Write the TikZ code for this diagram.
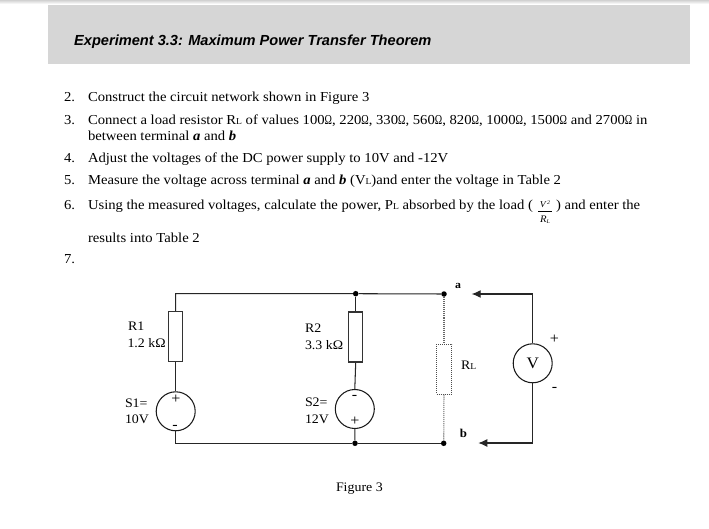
\documentclass[tikz,border=0pt]{standalone}
\usepackage{fontspec}
\usepackage{graphicx}
\setmainfont[FakeStretch=1.07]{Liberation Serif}
\newfontfamily\headf{Liberation Sans}
\usetikzlibrary{arrows.meta}
\newcommand{\lsub}[1]{{\fontsize{9}{9}\selectfont #1}}
\newcommand{\om}{Ω}
\newcommand{\omn}{\scalebox{0.68}[1]{Ω}}
\tikzset{
  x=1pt,y=-1pt,
  wire/.style={line width=1.05pt,draw=black!85},
  txt/.style={anchor=base west,inner sep=0,outer sep=0,font=\fontsize{13.7}{14}\selectfont,text=black},
  lab/.style={anchor=base west,inner sep=0,outer sep=0,font=\fontsize{13}{14}\selectfont,text=black},
  resbox/.style={draw=black!80,line width=1.05pt,minimum width=14.5pt,minimum height=50pt,inner sep=0,fill=white},
  loadbox/.style={draw=black!70,densely dotted,line width=1pt,minimum width=15pt,minimum height=50pt,inner sep=0},
  srcnode/.style={circle,draw=black!90,line width=1.05pt,minimum size=39pt,inner sep=0,font=\fontsize{16}{16}\selectfont},
  junction/.style={circle,fill=black,minimum size=5.5pt,inner sep=0},
  arr/.style={wire,-{Latex[length=9pt,width=8pt]}},
  sign/.style={anchor=center,inner sep=0,font=\fontsize{15}{15}\selectfont},
}
\begin{document}
\begin{tikzpicture}
\useasboundingbox (0,0) rectangle (709,529);
\fill[white] (0,0) rectangle (709,529);
\shade[top color=black!18,bottom color=white] (0,0) rectangle (709,4);
\fill[black!16] (48,5) rectangle (690,64);
\node[anchor=base west,inner sep=0,font=\headf\bfseries\itshape\fontsize{14.6}{16}\selectfont] (title) at (74,46) {Experiment 3.3: Maximum Power Transfer Theorem};
% numbered text
\node[txt] (n2) at (64,101.5) {2.};
\node[txt] (t2) at (88,101.5) {Construct the circuit network shown in Figure 3};
\node[txt] (n3) at (64,124.5) {3.};
\node[txt] (t3) at (88,124.5) {Connect a load resistor R\lsub{L} of values 100\omn, 220\omn, 330\omn, 560\omn, 820\omn, 1000\omn, 1500\omn\ and 2700\omn\ in};
\node[txt] (t3b) at (88,140.5) {between terminal \textbf{\textit{a}} and \textbf{\textit{b}}};
\node[txt] (n4) at (64,162.5) {4.};
\node[txt] (t4) at (88,162.5) {Adjust the voltages of the DC power supply to 10V and -12V};
\node[txt] (n5) at (64,184.5) {5.};
\node[txt] (t5) at (88,184.5) {Measure the voltage across terminal \textbf{\textit{a}} and \textbf{\textit{b}} (V\lsub{L})and enter the voltage in Table 2};
\node[txt] (n6) at (64,209.5) {6.};
\node[txt] (t6) at (88,209.5) {Using the measured voltages, calculate the power, P\lsub{L} absorbed by the load (};
\node[anchor=base,inner sep=0,font=\itshape\fontsize{9}{9}\selectfont] (fv) at (545,208) {V\,\raisebox{3pt}{\fontsize{5.5}{5.5}\selectfont 2}};
\node[anchor=base,inner sep=0,font=\itshape\fontsize{10}{10}\selectfont] (fr) at (545,223) {R\raisebox{-1pt}{\fontsize{5.5}{5.5}\selectfont L}};
\coordinate (fa) at (538,211);
\coordinate (fb) at (552,211);
\draw[line width=0.7pt] (fa) -- (fb);
\node[txt] (t6b) at (556,209.5) {) and enter the};
\node[txt] (t6c) at (88,242.5) {results into Table 2};
\node[txt] (n7) at (64,263.5) {7.};
% circuit
\coordinate (tl) at (175.7,293.7);
\coordinate (bl) at (175.7,443.3);
\node[junction] (jt) at (355.7,293.7) {};
\node[junction] (jb) at (355,443.3) {};
\node[junction] (a) at (444,294) {};
\node[junction] (b) at (443.7,443.3) {};
\node[resbox] (r1) at (175.7,336.3) {};
\node[resbox] (r2) at (355.7,337) {};
\node[loadbox] (rl) at (444,369) {};
\node[srcnode] (s1) at (175.7,411.3) {};
\node[srcnode] (s2) at (354.8,409) {};
\node[srcnode] (v) at (532.7,363.3) {V};
\coordinate (vt) at (532.7,294);
\coordinate (vb) at (532.7,443);
\coordinate (at) at (471.7,294);
\coordinate (bt) at (478.3,443);
\draw[wire] (r1.north) -- (tl) -- (jt) -- (a);
\draw[wire] (s1.south) -- (bl) -- (jb) -- (b);
\draw[wire] (r1.south) -- (s1.north);
\draw[wire] (jt) -- (r2.north);
\draw[wire] (r2.south) -- (s2.north);
\draw[wire] (s2.south) -- (jb);
\draw[wire,densely dotted,draw=black!60] (a) -- (rl.north);
\draw[wire,densely dotted,draw=black!60] (rl.south) -- (b);
\draw[arr] (v.north) -- (vt) -- (at);
\draw[arr] (v.south) -- (vb) -- (bt);
% circuit labels
\node[lab] (lr1) at (128,330) {R1};
\node[lab] (lr1v) at (127.5,347) {1.2 k\om};
\node[lab] (ls1) at (125,407) {S1=};
\node[lab] (ls1v) at (125,423.5) {10V};
\node[lab] (lr2) at (305,332) {R2};
\node[lab] (lr2v) at (305,349) {3.3 k\om};
\node[lab] (ls2) at (305,406) {S2=};
\node[lab] (ls2v) at (305,423) {12V};
\node[lab] (lrl) at (461,369) {R\lsub{L}};
\node[anchor=center,inner sep=0,font=\bfseries\fontsize{11}{11}\selectfont] (la) at (458,286) {a};
\node[anchor=center,inner sep=0,font=\bfseries\fontsize{12}{12}\selectfont] (lb) at (463.5,433.5) {b};
\node[sign] (ps1) at (176,399) {+};
\node[sign] (ms1) at (175,427) {-};
\node[sign] (ms2) at (354.5,397) {-};
\node[sign] (ps2) at (355,421) {+};
\node[sign] (pv) at (554.5,339) {+};
\node[sign] (mv) at (554.5,389) {-};
\node[lab] (fig) at (336,491) {Figure 3};
\end{tikzpicture}
\end{document}
